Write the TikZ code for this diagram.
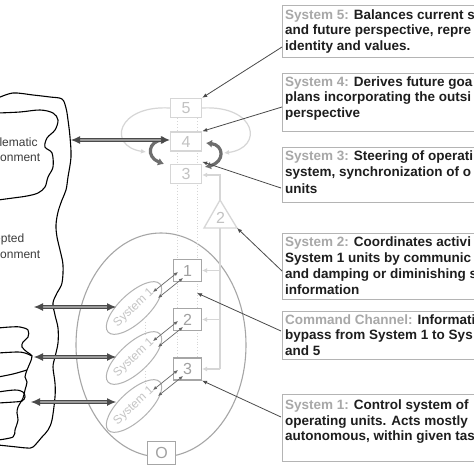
\documentclass[tikz,border=0pt]{standalone}
\usepackage{fontspec}
\setmainfont{Liberation Sans}
\usetikzlibrary{arrows.meta,shapes.geometric}
\definecolor{mgmt}{HTML}{D6D6D6}
\definecolor{mgmttxt}{HTML}{C2C2C2}
\definecolor{opgray}{HTML}{A6A6A6}
\definecolor{sonegray}{HTML}{B2B2B2}
\definecolor{optxt}{HTML}{A0A0A0}
\definecolor{boxedge}{HTML}{B4B4B4}
\definecolor{labgray}{HTML}{A8A8A8}
\definecolor{conn}{HTML}{4A4A4A}
\definecolor{curlc}{HTML}{6E6E6E}
\definecolor{sonetxt}{HTML}{C4C4C4}
\definecolor{envtxt}{HTML}{3C3C3C}
\definecolor{bodytxt}{HTML}{1E1E1E}
\begin{document}
\begin{tikzpicture}[x=1pt,y=-1pt,
  mbox/.style={draw=mgmt,fill=white,line width=1.4pt,minimum width=31pt,minimum height=19pt,inner sep=0pt,text=mgmttxt,font=\fontsize{16}{16}\selectfont},
  obox/.style={draw=opgray,fill=white,line width=1.1pt,minimum width=28pt,minimum height=22pt,inner sep=0pt,text=optxt,font=\fontsize{16}{16}\selectfont},
  sone/.style={draw=sonegray,line width=1pt,ellipse,minimum width=70pt,minimum height=29pt,inner sep=0pt,rotate=43,text=sonetxt,font=\fontsize{12}{12}\selectfont},
  tbox/.style={draw=boxedge,line width=1.3pt,fill=white},
  lab/.style={anchor=base west,inner sep=0pt,text=bodytxt,font=\fontsize{13.5}{16}\selectfont\bfseries},
  envlab/.style={anchor=base west,inner sep=0pt,text=envtxt,font=\fontsize{12}{15}\selectfont},
  envline/.style={draw=black,line width=1.1pt},
  envarrow/.style={draw=conn,double=black!40,double distance=1.4pt,line width=0.9pt,{Latex[length=9pt,width=8pt]}-{Latex[length=9pt,width=8pt]}},
  conline/.style={draw=conn,line width=0.8pt,-{Latex[length=5pt,width=4pt]}},
  pairarrow/.style={draw=black!60,line width=0.7pt,{Latex[length=4pt,width=3.5pt]}-{Latex[length=4pt,width=3.5pt]}},
  lg/.style={draw=mgmt,line width=1.2pt},
  lgarrow/.style={draw=mgmt,line width=1.2pt,-{Latex[length=5pt,width=5pt]}},
  dotl/.style={draw=mgmt,line width=0.9pt,dotted},
  curl/.style={draw=curlc,line width=3.2pt,{Latex[length=6pt,width=8pt]}-{Latex[length=6pt,width=8pt]}}
]
\useasboundingbox (0,0) rectangle (474,474);
\clip (0,0) rectangle (474,474);
\fill[white] (0,0) rectangle (474,474);

% ---------------- environment (left) ----------------
\draw[envline] plot[smooth,tension=0.55] coordinates {(-2,98) (13,93) (33,95) (50,97) (62,99) (66,108) (68,120) (70,137) (71,157) (68,177) (66,190) (62,200) (58,212) (56,225) (57,237) (60,250) (63,265) (62,283) (57,293) (53,303) (55,315) (58,328) (58,343) (55,357) (53,367) (55,383) (55,397) (52,420) (48,430) (42,437) (33,447) (27,448) (17,447) (-2,445)};
\draw[envline] plot[smooth,tension=0.55] coordinates {(-2,113) (20,112) (40,110) (53,113) (58,120) (55,130) (47,138) (45,147) (52,153) (53,167) (48,177) (45,187) (38,193) (27,196) (13,198) (-2,200)};
\draw[envline] plot[smooth,tension=0.55] coordinates {(-2,328) (10,327) (20,327) (28,330) (28,337) (23,342) (22,347) (27,352) (32,356) (30,363) (27,370) (25,377) (27,382) (25,390) (23,398) (18,407) (17,413) (18,420) (15,430) (13,437) (-2,440)};
\draw[envline] plot[smooth,tension=0.55] coordinates {(-2,353) (17,352) (25,353) (32,356)};
\draw[envline] plot[smooth,tension=0.55] coordinates {(-2,377) (13,374) (27,370)};
\draw[envline] plot[smooth,tension=0.55] coordinates {(-2,392) (15,390) (23,392) (25,397) (22,401) (14,402) (-2,403)};

\node[envlab] (pe1) at (-26,146.5) {Problematic};
\node[envlab] (pe2) at (-26,161.5) {environment};
\node[envlab] (ae1) at (-26,242.5) {Accepted};
\node[envlab] (ae2) at (-26,258.5) {environment};

% ---------------- operations ellipse ----------------
\draw[draw=opgray,line width=1.1pt] (161,345) ellipse [x radius=85, y radius=112];

% dotted command channel lines
\node[mbox] (m5) at (186,108) {};
\draw[dotl] ([xshift=8pt]m5.south west) -- ([xshift=8pt]m5.south west |- 0,358);
\draw[dotl] ([xshift=-5pt]m5.south east) -- ([xshift=-5pt]m5.south east |- 0,358);

% loops around system 4
\coordinate (lpl) at (146,152);
\coordinate (lpr) at (224,153);
\draw[lgarrow] (m5.west) .. controls (117,105) and (107,146) .. (lpl);
\draw[lgarrow] (m5.east) .. controls (257,105) and (264,148) .. (lpr);

% management boxes
\node[mbox] (m5) at (186,108) {5};
\node[mbox] (m4) at (186,141.5) {4};
\node[mbox] (m3) at (186,174) {3};

% system 2 triangle and its channels
\coordinate (t2top) at (220,200);
\coordinate (t2l) at (204,228);
\coordinate (t2r) at (237,228);
\coordinate (t2base) at (220,228);
\draw[draw=mgmt,line width=1.3pt,fill=white] (t2top) -- (t2r) -- (t2l) -- cycle;
\node[text=mgmttxt,font=\fontsize{16}{16}\selectfont,inner sep=0pt] (t2) at (220.5,218) {2};
\coordinate (j3) at (220,175);
\draw[lgarrow] (t2top) -- (j3) -- (m3.east |- j3);

% operational boxes
\node[obox] (o1) at (187.5,270.5) {1};
\node[obox] (o2) at (187.5,319.5) {2};
\node[obox] (o3) at (187.5,369) {3};
\node[obox,minimum height=23pt] (oo) at (161.5,453) {O};

\coordinate (jb) at (220,369);
\draw[lg] (t2base) -- (jb);
\draw[lgarrow] (o1.east -| t2base) -- (o1.east);
\draw[lgarrow] (o2.east -| t2base) -- (o2.east);
\draw[lgarrow] (jb) -- (o3.east);

% system 1 units
\node[sone] (e1) at (134,308) {System 1};
\node[sone] (e2) at (134,358) {System 1};
\node[sone] (e3) at (134,406) {System 1};
\draw[dotl] (145,322) -- (145,334);
\draw[dotl] (145,371) -- (145,384);

% arrow pairs between units and boxes
\foreach \b/\y in {o1/259,o2/308,o3/357}{
  \coordinate (pa\b) at (153,\y+33);
  \coordinate (pb\b) at (178,\y+13);
  \coordinate (pc\b) at (158,\y+39);
  \coordinate (pd\b) at (183,\y+19);
  \draw[pairarrow] (pa\b) -- (pb\b);
  \draw[pairarrow] (pc\b) -- (pd\b);
}

% curls between 3 and 4
\draw[curl] (164,164) .. controls (146,157) and (148,141) .. (168,139.5);
\draw[curl] (206,143) .. controls (224,145) and (225,162) .. (205,167);

% environment arrows
\coordinate (ea0) at (71,140);
\draw[envarrow] (ea0) -- (m4.west |- ea0);
\coordinate (ea1) at (34,307);
\coordinate (eb1) at (116,307);
\coordinate (ea2) at (34,357);
\coordinate (eb2) at (116,357);
\coordinate (ea3) at (31,402);
\coordinate (eb3) at (116,402);
\draw[envarrow] (ea1) -- (eb1);
\draw[envarrow] (ea2) -- (eb2);
\draw[envarrow] (ea3) -- (eb3);

% ---------------- text boxes (right) ----------------
\node[tbox,anchor=north west,minimum width=210pt,minimum height=52pt] (b5) at (282,5) {};
\node[tbox,anchor=north west,minimum width=210pt,minimum height=58pt] (b4) at (282,73) {};
\node[tbox,anchor=north west,minimum width=210pt,minimum height=55pt] (b3) at (282,147) {};
\node[tbox,anchor=north west,minimum width=210pt,minimum height=66pt] (b2) at (282,233) {};
\node[tbox,anchor=north west,minimum width=210pt,minimum height=48pt] (bc) at (282,311) {};
\node[tbox,anchor=north west,minimum width=210pt,minimum height=67pt] (b1) at (282,394) {};

\node[lab] (s5a) at (285,19) {\textcolor{labgray}{System 5:} Balances current s};
\node[lab] (s5b) at (285,34.5) {and future perspective, repre};
\node[lab] (s5c) at (285,50) {identity and values.};

\node[lab] (s4a) at (285,86) {\textcolor{labgray}{System 4:} Derives future goa};
\node[lab] (s4b) at (285,101.5) {plans incorporating the outsi};
\node[lab] (s4c) at (285,117.5) {perspective};

\node[lab] (s3a) at (285,160) {\textcolor{labgray}{System 3:} Steering of operati};
\node[lab] (s3b) at (285,176.5) {system, synchronization of o};
\node[lab] (s3c) at (285,193) {units};

\node[lab] (s2a) at (285,246) {\textcolor{labgray}{System 2:} Coordinates activi};
\node[lab] (s2b) at (285,262.5) {System 1 units by communic};
\node[lab] (s2c) at (285,278.5) {and damping or diminishing s};
\node[lab] (s2d) at (285,294.5) {information};

\node[lab] (cca) at (285,324) {\textcolor{labgray}{Command Channel:} Informati};
\node[lab] (ccb) at (285,339.5) {bypass from System 1 to Sys};
\node[lab] (ccc) at (285,355.5) {and 5};

\node[lab] (s1a) at (285,409) {\textcolor{labgray}{System 1:} Control system of};
\node[lab] (s1b) at (285,425) {operating units. Acts mostly};
\node[lab] (s1c) at (285,440.5) {autonomous, within given tas};

% connectors from text boxes
\coordinate (c5) at (282,47);
\coordinate (c4) at (282,107);
\coordinate (c3) at (281,188);
\coordinate (c2) at (282,271);
\coordinate (cc) at (281,331);
\coordinate (c1) at (281,417);
\coordinate (ccend) at (197,293);
\draw[conline] (c5) -- (m5.north east);
\draw[conline] (c4) -- (m4.north east);
\draw[conline] (c3) -- ([yshift=2pt]m3.north east);
\draw[conline] (c2) -- (t2r);
\draw[conline] (cc) -- (ccend);
\draw[conline] (c1) -- (o3.south east);
\end{tikzpicture}
\end{document}
